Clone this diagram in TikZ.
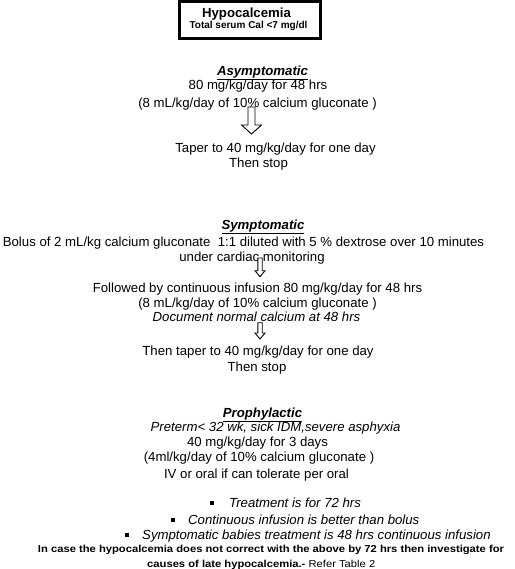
\documentclass[tikz,border=0pt]{standalone}
\usepackage{fontspec}
\setmainfont{Liberation Sans}
\newfontfamily\footfont[FakeStretch=1.11]{Liberation Sans}
\newcommand\blockarrow[5]{%
  \draw[arrowline] ([xshift=-#2pt]#1) -- ++(0,-#4) -- ++({#2-#3},0) -- ++(#3,-#5)
    -- ++(#3,#5) -- ++({#2-#3},0) -- ++(0,#4) -- cycle;}
\begin{document}
\begin{tikzpicture}[x=1pt,y=1pt,
  txt/.style={font=\fontsize{13.2}{15}\selectfont, inner sep=0, anchor=base},
  itx/.style={txt, font=\fontsize{13.2}{15}\selectfont\itshape},
  hd/.style={txt, font=\fontsize{13.2}{15}\selectfont\bfseries\itshape},
  bt/.style={txt, font=\fontsize{13.2}{15}\selectfont\bfseries},
  sb/.style={txt, font=\fontsize{10}{12}\selectfont\bfseries},
  ft/.style={txt, font=\footfont\fontsize{10.1}{12}\selectfont},
  bul/.style={fill=black, minimum size=3.6pt, inner sep=0, outer sep=0},
  btx/.style={itx, anchor=base west},
  arrowline/.style={draw=black, line width=0.9pt, fill=white, line join=miter},
  titlebox/.style={draw=black, line width=3pt, inner sep=0, minimum width=141pt, minimum height=37pt}]
\useasboundingbox (0,0) rectangle (514,-569);
% title
\node[titlebox] (box) at (250,-20.5) {};
\node[bt] (t1) at (246.5,-18) {Hypocalcemia};
\node[sb] (t2) at (248.5,-29) {Total serum Cal <7 mg/dl};
% asymptomatic
\node[hd] (a0) at (262.5,-75.2) {\underline{Asymptomatic}};
\node[txt] (a1) at (258,-89.5) {80 mg/kg/day for 48 hrs};
\node[txt] (a2) at (257.5,-107.5) {(8 mL/kg/day of 10\% calcium gluconate )};
\coordinate (ar1) at (251.5,-107);
\blockarrow{ar1}{3.5}{10}{18}{9}
\node[txt] (a3) at (275.5,-152.5) {Taper to 40 mg/kg/day for one day};
\node[txt] (a4) at (258.5,-167.5) {Then stop};
% symptomatic
\node[hd] (s0) at (263,-229.5) {\underline{Symptomatic}};
\node[txt] (s1) at (243.5,-246.5) {Bolus of 2 mL/kg calcium gluconate\ \ 1:1 diluted with 5 \% dextrose over 10 minutes};
\node[txt] (s2) at (252,-261.5) {under cardiac monitoring};
\coordinate (ar2) at (260,-258);
\blockarrow{ar2}{2.2}{5}{12.7}{6}
\node[txt] (s3) at (257.5,-292.5) {Followed by continuous infusion 80 mg/kg/day for 48 hrs};
\node[txt] (s4) at (257.5,-307.5) {(8 mL/kg/day of 10\% calcium gluconate )};
\node[itx] (s5) at (256.5,-321.5) {Document normal calcium at 48 hrs};
\coordinate (ar3) at (260,-322.7);
\blockarrow{ar3}{2.2}{5}{10.3}{6}
\node[txt] (s6) at (258,-355.5) {Then taper to 40 mg/kg/day for one day};
\node[txt] (s7) at (257,-371.5) {Then stop};
% prophylactic
\node[hd] (p0) at (262.5,-417.5) {\underline{Prophylactic}};
\node[itx] (p1) at (275.5,-431.5) {Preterm< 32 wk, sick IDM,severe asphyxia};
\node[txt] (p2) at (257.5,-446.5) {40 mg/kg/day for 3 days};
\node[txt] (p3) at (259,-461.5) {(4ml/kg/day of 10\% calcium gluconate )};
\node[txt] (p4) at (256.5,-478.5) {IV or oral if can tolerate per oral};
% bullets
\node[bul] (b1) at (212,-503) {};
\node[btx] (bt1) at (229,-507.5) {Treatment is for 72 hrs};
\node[bul] (b2) at (173,-520) {};
\node[btx] (bt2) at (188,-524.5) {Continuous infusion is better than bolus};
\node[bul] (b3) at (127,-535) {};
\node[btx] (bt3) at (142,-539.5) {Symptomatic babies treatment is 48 hrs continuous infusion};
% footer
\node[ft] (f1) at (271,-552.5) {\bfseries In case the hypocalcemia does not correct with the above by 72 hrs then investigate for};
\node[ft, anchor=base west] (f2) at (147,-567) {\bfseries causes of late hypocalcemia.-\mdseries{} Refer Table 2};
\end{tikzpicture}
\end{document}
